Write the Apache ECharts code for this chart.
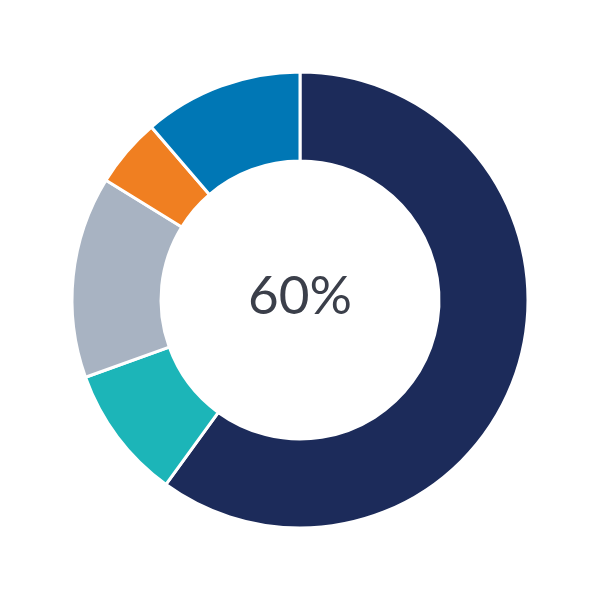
<!DOCTYPE html>
<html>
<head>
<meta charset="utf-8">
<script src="https://cdn.jsdelivr.net/npm/echarts@6/dist/echarts.min.js"></script>
<style>
html,body{margin:0;padding:0;background:#fff;}
#c{width:600px;height:600px;}
</style>
</head>
<body>
<div id="c"></div>
<script>
var categories = ['A', 'B', 'C', 'D', 'E'];
var values = [60, 9.5, 14.3, 4.9, 11.3];
var colors = ['#1c2b5a', '#1cb5b8', '#a8b3c2', '#f07f21', '#0077b5'];
var centerLabel = '60%';

var chart = echarts.init(document.getElementById('c'));
chart.setOption({
  animation: false,
  series: [{
    type: 'pie',
    center: ['50%', '50%'],
    radius: [139, 228],
    startAngle: 90,
    clockwise: true,
    silent: true,
    label: {show: false},
    labelLine: {show: false},
    itemStyle: {borderColor: '#ffffff', borderWidth: 3},
    data: categories.map(function (c, i) {
      return {name: c, value: values[i], itemStyle: {color: colors[i]}};
    })
  }],
  graphic: [{
    type: 'text',
    left: 'center',
    top: 270,
    style: {
      text: centerLabel,
      fontFamily: 'Lato',
      fontWeight: 400,
      fontSize: 53,
      fill: '#3b3f4a'
    }
  }]
});
</script>
</body>
</html>
